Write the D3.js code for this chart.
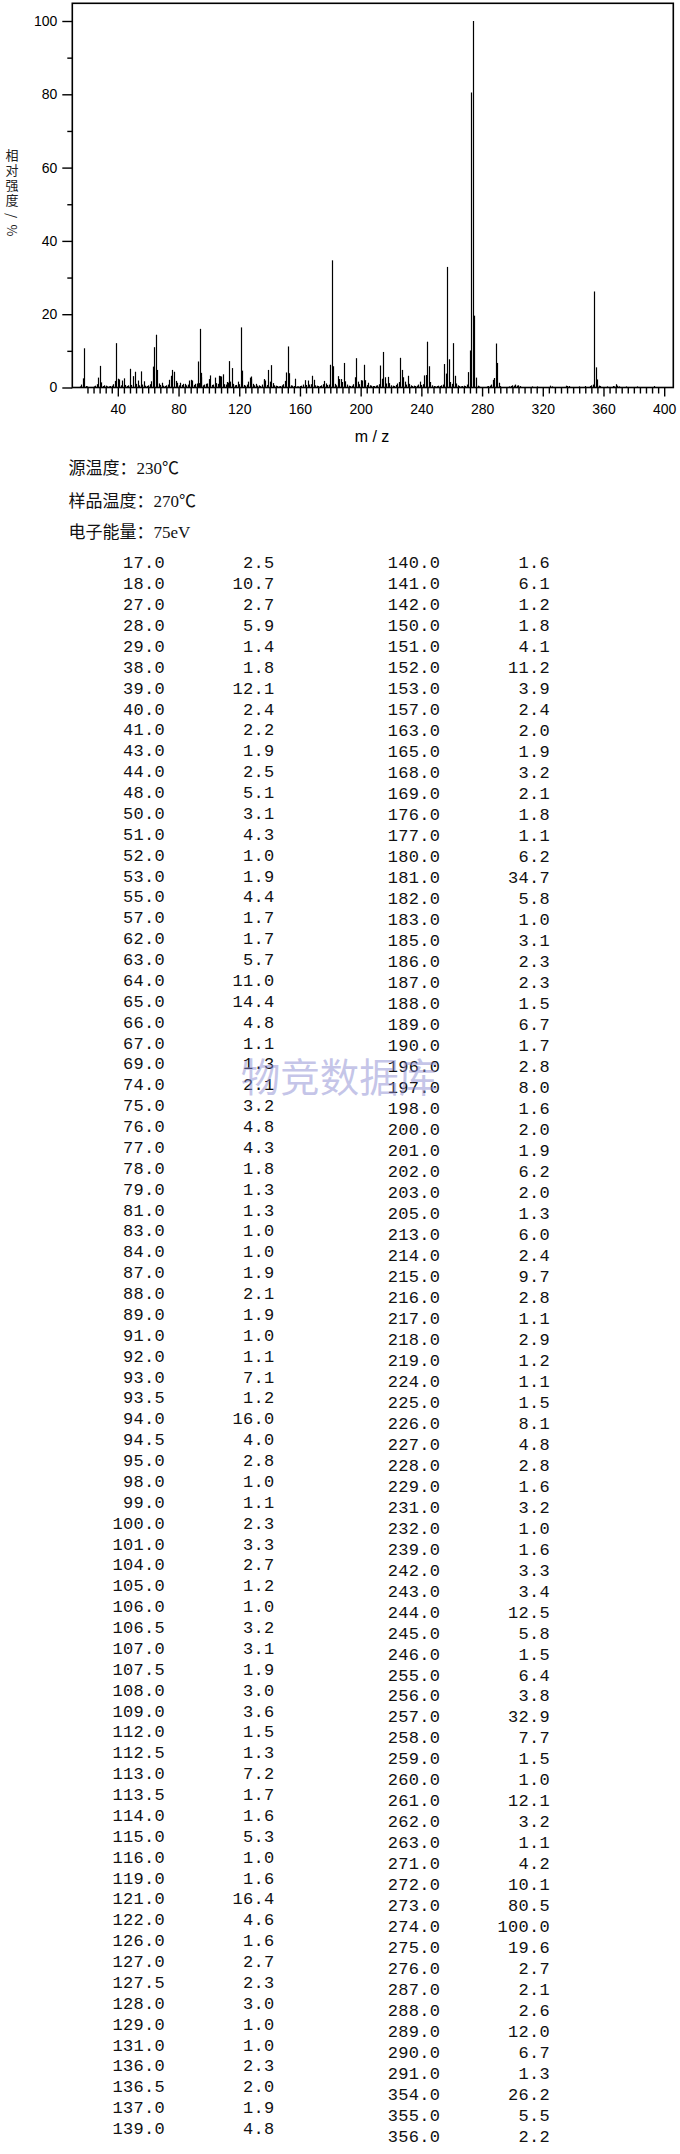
<!DOCTYPE html>
<html>
<head>
<meta charset="utf-8">
<script src="https://cdn.jsdelivr.net/npm/d3@7"></script>
<style>
  html, body { margin: 0; padding: 0; background: #fff; }
  svg { display: block; }
</style>
</head>
<body>
<svg id="chart" width="680" height="2154"></svg>
<script>
// ---- Data: listed peaks (m/z, relative intensity %) ----
const mzLeft = [17.0,18.0,27.0,28.0,29.0,38.0,39.0,40.0,41.0,43.0,44.0,48.0,50.0,51.0,52.0,53.0,55.0,57.0,62.0,63.0,64.0,65.0,66.0,67.0,69.0,74.0,75.0,76.0,77.0,78.0,79.0,81.0,83.0,84.0,87.0,88.0,89.0,91.0,92.0,93.0,93.5,94.0,94.5,95.0,98.0,99.0,100.0,101.0,104.0,105.0,106.0,106.5,107.0,107.5,108.0,109.0,112.0,112.5,113.0,113.5,114.0,115.0,116.0,119.0,121.0,122.0,126.0,127.0,127.5,128.0,129.0,131.0,136.0,136.5,137.0,139.0];
const intLeft = [2.5,10.7,2.7,5.9,1.4,1.8,12.1,2.4,2.2,1.9,2.5,5.1,3.1,4.3,1.0,1.9,4.4,1.7,1.7,5.7,11.0,14.4,4.8,1.1,1.3,2.1,3.2,4.8,4.3,1.8,1.3,1.3,1.0,1.0,1.9,2.1,1.9,1.0,1.1,7.1,1.2,16.0,4.0,2.8,1.0,1.1,2.3,3.3,2.7,1.2,1.0,3.2,3.1,1.9,3.0,3.6,1.5,1.3,7.2,1.7,1.6,5.3,1.0,1.6,16.4,4.6,1.6,2.7,2.3,3.0,1.0,1.0,2.3,2.0,1.9,4.8];
const mzRight = [140.0,141.0,142.0,150.0,151.0,152.0,153.0,157.0,163.0,165.0,168.0,169.0,176.0,177.0,180.0,181.0,182.0,183.0,185.0,186.0,187.0,188.0,189.0,190.0,196.0,197.0,198.0,200.0,201.0,202.0,203.0,205.0,213.0,214.0,215.0,216.0,217.0,218.0,219.0,224.0,225.0,226.0,227.0,228.0,229.0,231.0,232.0,239.0,242.0,243.0,244.0,245.0,246.0,255.0,256.0,257.0,258.0,259.0,260.0,261.0,262.0,263.0,271.0,272.0,273.0,274.0,275.0,276.0,287.0,288.0,289.0,290.0,291.0,354.0,355.0,356.0];
const intRight = [1.6,6.1,1.2,1.8,4.1,11.2,3.9,2.4,2.0,1.9,3.2,2.1,1.8,1.1,6.2,34.7,5.8,1.0,3.1,2.3,2.3,1.5,6.7,1.7,2.8,8.0,1.6,2.0,1.9,6.2,2.0,1.3,6.0,2.4,9.7,2.8,1.1,2.9,1.2,1.1,1.5,8.1,4.8,2.8,1.6,3.2,1.0,1.6,3.3,3.4,12.5,5.8,1.5,6.4,3.8,32.9,7.7,1.5,1.0,12.1,3.2,1.1,4.2,10.1,80.5,100.0,19.6,2.7,2.1,2.6,12.0,6.7,1.3,26.2,5.5,2.2];

// ---- Small unlisted peaks (< 1 %), estimated from the spectrum picture ----
const mzMinor = [15,16,19,20,24,25,26,30,31,32,33,34,35,36,37,42,45,46,47,49,54,56,58,59,60,61,68,70,71,72,73,80,82,85,86,90,96,97,102,103,110,111,117,118,120,123,124,125,130,132,133,134,135,138,143,144,145,146,147,148,149,154,155,156,158,159,160,161,162,164,166,167,170,171,172,173,174,175,178,179,184,191,192,193,194,195,199,204,206,207,208,209,210,211,212,220,221,222,223,230,233,234,235,236,237,238,240,241,247,248,249,250,251,252,253,254,264,265,266,267,268,269,270,277,278,283,284,285,286,292,298,299,300,301,302,303,304,305,313,316,325,326,335,336,337,344,348,351,352,353,357,358,362,366,367,368,369,370,375,382,393];
const intMinor = [0.3,0.8,0.4,0.3,0.3,0.5,0.9,0.4,0.6,0.5,0.3,0.3,0.4,0.5,0.9,0.6,0.7,0.4,0.6,0.7,0.6,0.8,0.5,0.4,0.6,0.9,0.7,0.5,0.4,0.6,0.8,0.6,0.7,0.6,0.8,0.7,0.6,0.8,0.7,0.8,0.9,0.8,0.6,0.7,0.9,0.7,0.5,0.8,0.6,0.5,0.6,0.4,0.8,0.7,0.6,0.5,0.4,0.3,0.4,0.6,0.9,0.6,0.5,0.4,0.3,0.3,0.4,0.5,0.8,0.7,0.8,0.9,0.6,0.5,0.4,0.4,0.6,0.9,0.7,0.8,0.6,0.8,0.5,0.4,0.5,0.9,0.9,0.7,0.6,0.5,0.4,0.4,0.5,0.6,0.9,0.6,0.5,0.4,0.7,0.8,0.6,0.4,0.5,0.4,0.5,0.8,0.7,0.9,0.6,0.4,0.3,0.4,0.5,0.4,0.6,0.8,0.6,0.4,0.3,0.4,0.5,0.4,0.8,0.5,0.3,0.3,0.4,0.5,0.8,0.4,0.3,0.4,0.6,0.5,0.8,0.5,0.6,0.4,0.3,0.3,0.5,0.3,0.5,0.4,0.4,0.3,0.4,0.4,0.6,0.8,0.5,0.4,0.3,0.4,0.3,0.9,0.5,0.3,0.3,0.3,0.4];

const xMajorTicks = [40,80,120,160,200,240,280,320,360,400];
const yMajorTicks = [0,20,40,60,80,100];
const yMinorTicks = [10,30,50,70,90];

const headerLines = ["源温度：230℃","样品温度：270℃","电子能量：75eV"];
const yAxisTitle = "相对强度/%";
const xAxisTitle = "m / z";
const watermark = "物竞数据库";

// ---- Drawing ----
const svg = d3.select("#chart");
const L = 72.3, R = 673.3, T = 3.3, B = 387.5;
const x = d3.scaleLinear().domain([10, 406]).range([L, R]);
const y = d3.scaleLinear().domain([0, 100]).range([B, 21]);

const peaks = [];
mzMinor.forEach((m,i)=>peaks.push({mz:m, v:intMinor[i]}));
mzLeft.forEach((m,i)=>peaks.push({mz:m, v:intLeft[i]}));
mzRight.forEach((m,i)=>peaks.push({mz:m, v:intRight[i]}));

const g = svg.append("g");

// peaks
g.append("g").selectAll("line").data(peaks).join("line")
  .attr("x1", d=>Math.round(x(d.mz))+0.5).attr("x2", d=>Math.round(x(d.mz))+0.5)
  .attr("y1", y(0)).attr("y2", d=>y(d.v))
  .attr("stroke", "#000").attr("stroke-width", 1.2);

// frame
g.append("rect").attr("x", L).attr("y", T).attr("width", R-L).attr("height", B-T)
  .attr("fill","none").attr("stroke","#000").attr("stroke-width",1.6);

const axisFont = "'Liberation Sans', Arial, sans-serif";

// x axis: major + minor ticks
const xMinorTicks = d3.range(20, 401, 4).filter(v => xMajorTicks.indexOf(v) < 0);
const xMinor = d3.axisBottom(x).tickValues(xMinorTicks).tickSize(6).tickFormat("");
const xMajor = d3.axisBottom(x).tickValues(xMajorTicks).tickSize(9).tickPadding(8).tickFormat(d3.format("d"));
const gxm = g.append("g").attr("transform", `translate(0,${B})`).call(xMinor);
const gx = g.append("g").attr("transform", `translate(0,${B})`).call(xMajor);
[gxm, gx].forEach(a => { a.select(".domain").remove(); a.selectAll("line").attr("stroke","#000").attr("stroke-width",1.4); });
gx.selectAll("text").attr("font-family", axisFont).attr("font-size", 14).attr("fill","#000");

// y axis
const yMinor = d3.axisLeft(y).tickValues(yMinorTicks).tickSize(5).tickFormat("");
const yMajor = d3.axisLeft(y).tickValues(yMajorTicks).tickSize(10).tickPadding(5).tickFormat(d3.format("d"));
const gym = g.append("g").attr("transform", `translate(${L},0)`).call(yMinor);
const gy = g.append("g").attr("transform", `translate(${L},0)`).call(yMajor);
[gym, gy].forEach(a => { a.select(".domain").remove(); a.selectAll("line").attr("stroke","#000").attr("stroke-width",1.4); });
gy.selectAll("text").attr("font-family", axisFont).attr("font-size", 14).attr("fill","#000");

// axis titles
g.append("text").attr("x", 372).attr("y", 442).attr("text-anchor","middle")
  .attr("font-family", axisFont).attr("font-size", 16).attr("fill","#000").text(xAxisTitle);

// vertical y title: one glyph per step, Latin glyphs turned sideways
const yTitleChars = Array.from(yAxisTitle);
const yt = g.append("g");
yt.selectAll("text").data(yTitleChars).join("text")
  .attr("transform", (d,i) => {
    const cy = 155.5 + i*15;
    return /[\/%]/.test(d) ? `translate(12,${cy}) rotate(90)` : `translate(12,${cy})`;
  })
  .attr("text-anchor","middle").attr("dy","0.36em")
  .attr("font-family", "'Noto Sans CJK SC', sans-serif").attr("font-size", 13)
  .attr("fill","#222")
  .text(d=>d);

// header lines
const hY = [468.3, 501, 531.7];
svg.append("g").selectAll("text").data(headerLines).join("text")
  .attr("x", 68.5).attr("y", (d,i)=>hY[i]).attr("dy","0.36em")
  .attr("font-family", "'Liberation Serif', 'Noto Sans CJK SC', serif").attr("font-size", 17).attr("fill","#111")
  .text(d=>d);

// table
const monoFont = "'Liberation Mono', 'DejaVu Sans Mono', monospace";
const rowL = d3.scaleLinear().domain([0, mzLeft.length-1]).range([562.3, 2128]);
const rowR = d3.scaleLinear().domain([0, mzRight.length-1]).range([562.3, 2136]);
const cols = [
  {data: mzLeft, fmt: d3.format(".1f"), x: 165, row: rowL},
  {data: intLeft, fmt: d3.format(".1f"), x: 274.6, row: rowL},
  {data: mzRight, fmt: d3.format(".1f"), x: 440.3, row: rowR},
  {data: intRight, fmt: d3.format(".1f"), x: 550.1, row: rowR}
];
const tg = svg.append("g");
cols.forEach(c => {
  tg.append("g").selectAll("text").data(c.data).join("text")
    .attr("x", c.x).attr("y", (d,i)=>c.row(i)).attr("dy","0.36em")
    .attr("text-anchor","end")
    .attr("font-family", monoFont).attr("font-size", 17).attr("letter-spacing", 0.3)
    .attr("fill","#111")
    .text(d=>c.fmt(d));
});

// watermark
svg.append("text").attr("x", 339.5).attr("y", 1078).attr("dy","0.36em").attr("text-anchor","middle")
  .attr("font-family", "'Noto Sans CJK SC', sans-serif").attr("font-size", 39.5)
  .attr("fill", "rgb(140,140,210)").attr("fill-opacity", 0.5)
  .text(watermark);
</script>
</body>
</html>
